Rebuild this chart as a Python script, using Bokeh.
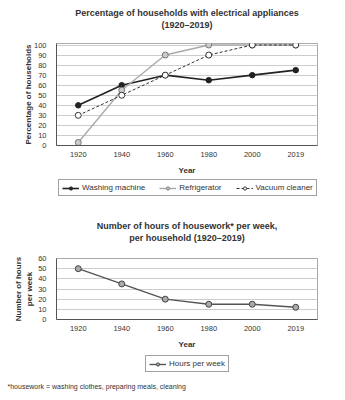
from bokeh.plotting import figure
from bokeh.models import Title, Legend, LegendItem, FixedTicker, Range1d, Label
from bokeh.layouts import column
from bokeh.embed import file_html
from bokeh.resources import INLINE

years = ["1920", "1940", "1960", "1980", "2000", "2019"]
washing = [40, 60, 70, 65, 70, 75]
fridge = [3, 55, 90, 100, 100, 100]
vacuum = [30, 50, 70, 90, 100, 100]
hours = [50, 35, 20, 15, 15, 12]
pct_ticks = [0, 10, 20, 30, 40, 50, 60, 70, 80, 90, 100]
hour_ticks = [0, 10, 20, 30, 40, 50, 60]

FONT = "Liberation Sans"
TXT = "#333333"

STY = {
    "wash": dict(line=dict(line_color="#222222", line_width=1.6),
                 mark=dict(size=5.5, fill_color="#222222", line_color="#222222")),
    "fridge": dict(line=dict(line_color="#aaaaaa", line_width=1.4),
                   mark=dict(size=6, fill_color="#cccccc", line_color="#777777")),
    "vac": dict(line=dict(line_color="#333333", line_width=1, line_dash="3 2"),
                mark=dict(size=6, fill_color="white", line_color="#333333")),
    "hours": dict(line=dict(line_color="#555555", line_width=1.4),
                  mark=dict(size=6, fill_color="#aaaaaa", line_color="#444444")),
}
DATA = {"wash": washing, "fridge": fridge, "vac": vacuum, "hours": hours}


def style(p, ylabel, ticks, ylabel_standoff):
    p.background_fill_color = "white"
    p.border_fill_color = "white"
    p.outline_line_color = "#aaaaaa"
    p.xgrid.grid_line_color = None
    p.ygrid.grid_line_color = "#cccccc"
    p.yaxis.ticker = FixedTicker(ticks=ticks)
    for ax in (p.xaxis[0], p.yaxis[0]):
        ax.major_tick_line_color = None
        ax.minor_tick_line_color = None
        ax.axis_line_color = "#555555"
        ax.major_label_text_font = FONT
        ax.major_label_text_font_size = "7.5px"
        ax.major_label_text_color = TXT
        ax.axis_label_text_font = FONT
        ax.axis_label_text_font_style = "bold"
        ax.axis_label_text_font_size = "8px"
        ax.axis_label_text_color = TXT
    p.xaxis.axis_label = "Year"
    p.xaxis.major_label_standoff = 0
    p.xaxis.axis_label_standoff = 6
    p.yaxis.axis_label = ylabel
    p.yaxis.major_label_standoff = 4
    p.yaxis.axis_label_standoff = ylabel_standoff


def set_titles(p, line1, line2, gap):
    kw = dict(align="center", text_font=FONT, text_font_size="9px",
              text_font_style="bold", text_color=TXT)
    t = p.title
    t.text = line1
    for k, v in kw.items():
        setattr(t, k, v)
    t.standoff = 0
    # spacer between the title lines and the frame (nearest the frame)
    p.add_layout(Title(text=" ", standoff=gap, **kw), "above")
    p.add_layout(Title(text=line2, standoff=0, **kw), "above")


def legend_fig(height, keys, labels, loc, spacing):
    f = figure(width=345, height=height, x_range=years, y_range=Range1d(1000, 1001),
               output_backend="svg", toolbar_location=None, title=None,
               min_border=0, min_border_left=0, min_border_right=0,
               min_border_top=0, min_border_bottom=0, frame_align=False)
    f.axis.visible = False
    f.grid.visible = False
    f.outline_line_color = None
    f.background_fill_color = "white"
    f.border_fill_color = "white"
    items = []
    for k, lab in zip(keys, labels):
        r1 = f.line(years, DATA[k], **STY[k]["line"])
        r2 = f.scatter(years, DATA[k], **STY[k]["mark"])
        items.append(LegendItem(label=lab, renderers=[r1, r2]))
    leg = Legend(items=items, orientation="horizontal", location=loc,
                 label_text_font=FONT, label_text_font_size="8px", label_text_color=TXT,
                 glyph_width=17, glyph_height=8, label_standoff=3, spacing=spacing,
                 padding=3, margin=0, border_line_color="#444444", border_line_width=1,
                 label_height=8, background_fill_color="white", background_fill_alpha=1)
    f.add_layout(leg, "center")
    return f


# ---------- Chart 1 ----------
p1 = figure(width=345, height=178, x_range=years, y_range=Range1d(0, 101.5),
            output_backend="svg", toolbar_location=None,
            min_border_left=56, min_border_right=28, min_border_top=43, min_border_bottom=33)
style(p1, "Percentage of households", pct_ticks, -2)
set_titles(p1, "Percentage of households with electrical appliances", "(1920\u20132019)", 2)
for k in ("wash", "fridge", "vac"):
    p1.line(years, DATA[k], **STY[k]["line"])
    p1.scatter(years, DATA[k], **STY[k]["mark"])

leg1 = legend_fig(27, ["wash", "fridge", "vac"],
                  ["Washing machine", "Refrigerator", "Vacuum cleaner"], (58, 9), 14)

# ---------- Chart 2 ----------
p2 = figure(width=345, height=149, x_range=years, y_range=Range1d(0, 60),
            output_backend="svg", toolbar_location=None,
            min_border_left=56, min_border_right=28, min_border_top=53, min_border_bottom=35)
style(p2, "Number of hours\nper week", hour_ticks, 1)
set_titles(p2, "Number of hours of housework* per week,", "per household (1920\u20132019)", 4)
p2.line(years, hours, **STY["hours"]["line"])
p2.scatter(years, hours, **STY["hours"]["mark"])

leg2 = legend_fig(46, ["hours"], ["Hours per week"], (145, 28), 0)
leg2.add_layout(Label(x=7, y=14, x_units="screen", y_units="screen",
                      text="*housework = washing clothes, preparing meals, cleaning",
                      text_font=FONT, text_font_size="7px", text_color=TXT,
                      text_baseline="middle", text_align="left"))

layout = column(p1, leg1, p2, leg2, spacing=0)
open("out.html", "w").write(file_html(layout, INLINE))
